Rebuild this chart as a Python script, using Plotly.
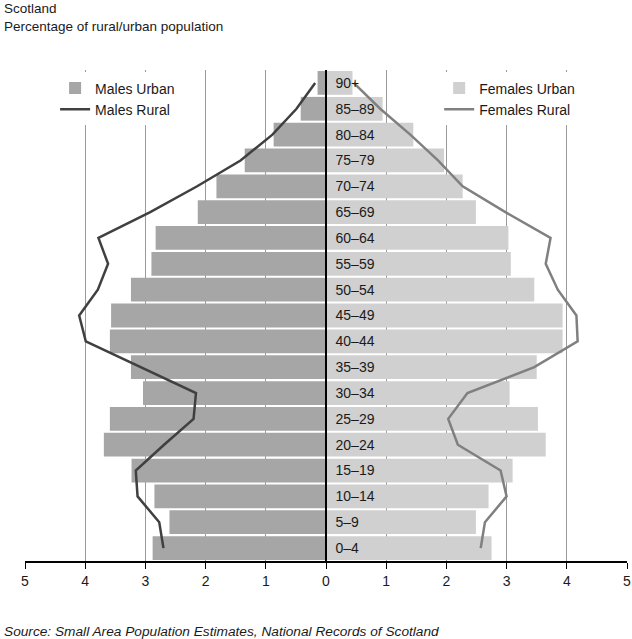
import plotly.graph_objects as go

# Age bands, bottom to top
ages = ["0–4", "5–9", "10–14", "15–19", "20–24", "25–29", "30–34", "35–39",
        "40–44", "45–49", "50–54", "55–59", "60–64", "65–69", "70–74",
        "75–79", "80–84", "85–89", "90+"]

# Percentage of population in each age band
males_urban = [2.88, 2.60, 2.85, 3.23, 3.69, 3.59, 3.04, 3.24, 3.59, 3.57,
               3.24, 2.90, 2.83, 2.13, 1.82, 1.35, 0.87, 0.42, 0.14]
males_rural = [2.70, 2.77, 3.13, 3.16, 2.69, 2.20, 2.16, 3.09, 3.99, 4.10,
               3.79, 3.62, 3.78, 2.92, 2.14, 1.42, 0.89, 0.49, 0.18]
females_urban = [2.75, 2.49, 2.70, 3.10, 3.65, 3.52, 3.05, 3.50, 3.93, 3.93,
                 3.46, 3.07, 3.03, 2.49, 2.27, 1.96, 1.45, 0.94, 0.44]
females_rural = [2.57, 2.64, 3.00, 2.90, 2.19, 2.03, 2.35, 3.46, 4.18, 4.16,
                 3.85, 3.65, 3.73, 2.98, 2.27, 1.86, 1.40, 0.90, 0.46]

tick_vals = [-5, -4, -3, -2, -1, 0, 1, 2, 3, 4, 5]
tick_text = ["5", "4", "3", "2", "1", "0", "1", "2", "3", "4", "5"]

FONT = "Arial, Liberation Sans, sans-serif"

fig = go.Figure()

fig.add_trace(go.Bar(
    y=ages, x=[-v for v in males_urban], orientation='h',
    name='Males Urban', marker=dict(color='#a6a6a6', line=dict(width=0)),
    legend='legend'
))
fig.add_trace(go.Scatter(
    y=ages, x=[-v for v in males_rural], mode='lines',
    name='Males Rural', line=dict(color='#404040', width=2.5),
    legend='legend'
))
fig.add_trace(go.Bar(
    y=ages, x=females_urban, orientation='h',
    name='Females Urban', marker=dict(color='#d0d0d0', line=dict(width=0)),
    legend='legend2'
))
fig.add_trace(go.Scatter(
    y=ages, x=females_rural, mode='lines',
    name='Females Rural', line=dict(color='#808080', width=2.5),
    legend='legend2'
))

fig.update_layout(
    template='none',
    width=632, height=639,
    margin=dict(l=25, r=5, t=70, b=78, autoexpand=False),
    plot_bgcolor='white', paper_bgcolor='white',
    barmode='overlay', bargap=0.08,
    font=dict(family=FONT, size=14, color='#1a1a1a'),
    xaxis=dict(
        range=[-5, 5], tickvals=tick_vals, ticktext=tick_text,
        showgrid=True, gridcolor='#9a9a9a', gridwidth=1,
        zeroline=False, showline=True, linecolor='black', linewidth=1.5,
        ticks='outside', ticklen=6, tickcolor='black', tickwidth=1,
        tickfont=dict(size=14), automargin=False, fixedrange=True
    ),
    yaxis=dict(
        type='category', categoryorder='array', categoryarray=ages,
        range=[-0.5, 18.5], anchor='free', position=0.5, side='right',
        showline=True, linecolor='black', linewidth=1.5, showgrid=False,
        zeroline=False, ticks='', ticklabelstandoff=6, automargin=False,
        tickfont=dict(size=14)
    ),
    legend=dict(
        x=0.05, y=0.995, xanchor='left', yanchor='top',
        bgcolor='white', font=dict(size=14), traceorder='normal',
        tracegroupgap=0, itemwidth=30
    ),
    legend2=dict(
        x=0.688, y=0.995, xanchor='left', yanchor='top',
        bgcolor='white', font=dict(size=14), traceorder='normal',
        tracegroupgap=0, itemwidth=30
    ),
    annotations=[
        dict(text='Scotland', xref='paper', yref='paper', x=-0.038, y=1.126,
             xanchor='left', yanchor='middle', showarrow=False,
             font=dict(size=13.5)),
        dict(text='Percentage of rural/urban population', xref='paper',
             yref='paper', x=-0.038, y=1.0876, xanchor='left',
             yanchor='middle', showarrow=False, font=dict(size=13.5)),
        dict(text='<i>Source: Small Area Population Estimates, National Records of Scotland</i>',
             xref='paper', yref='paper', x=-0.038, y=-0.1426,
             xanchor='left', yanchor='middle', showarrow=False,
             font=dict(size=13.7))
    ]
)

fig.write_html("out.html", config={'displayModeBar': False},
               post_script="document.body.style.margin='0px';"
                           "document.body.style.overflow='hidden';")
